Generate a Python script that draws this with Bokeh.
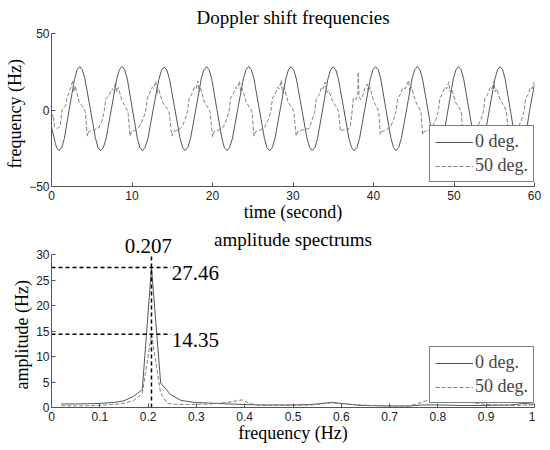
from bokeh.plotting import figure
from bokeh.models import Legend, LegendItem, Label, FixedTicker, Title
from bokeh.layouts import column
from bokeh.embed import file_html
from bokeh.resources import INLINE

# ---------------- data ----------------
time_solid = [0, 0.5, 0.62, 0.95,
              1.28, 1.6, 2.2, 2.85, 3.17, 3.5, 3.83, 4.15, 4.8, 5.45, 5.77, 6.1,
              6.43, 6.77, 7.43, 8.1, 8.43, 8.76, 9.09, 9.4, 10.03, 10.67, 10.97, 11.3,
              11.63, 11.98, 12.65, 13.33, 13.67, 14.0, 14.33, 14.65, 15.3, 15.95, 16.27, 16.6,
              16.93, 17.27, 17.93, 18.6, 18.93, 19.26, 19.59, 19.9, 20.53, 21.17, 21.47, 21.8,
              22.13, 22.48, 23.15, 23.83, 24.17, 24.5, 24.83, 25.15, 25.8, 26.45, 26.77, 27.1,
              27.43, 27.77, 28.43, 29.1, 29.43, 29.76, 30.09, 30.42, 31.08, 31.74, 32.07, 32.4,
              32.73, 33.05, 33.7, 34.34, 34.67, 34.99, 35.32, 35.64, 36.3, 36.95, 37.27, 37.6,
              37.93, 38.27, 38.93, 39.6, 39.93, 40.26, 40.59, 40.9, 41.53, 42.17, 42.49, 42.8,
              43.13, 43.46, 44.13, 44.79, 45.12, 45.45, 45.78, 46.09, 46.73, 47.36, 47.68, 48.0,
              48.33, 48.64, 49.28, 49.92, 50.24, 50.56, 50.89, 51.2, 51.83, 52.47, 52.79, 53.1,
              53.43, 53.76, 54.42, 55.08, 55.41, 55.74, 56.05, 56.35, 56.97, 57.58, 57.89, 58.2,
              58.52, 58.85, 59.4, 60.0]
shift_0deg = [-11, -22, -24.4, -26.5,
              -24.4, -18.5, 0.5, 20.0, 26.4, 28.5, 26.4, 20.5, 1.5, -18.0, -24.4, -26.5,
              -24.6, -19.0, 0.5, 20.5, 26.5, 28.6, 26.5, 21.0, 1.0, -18.5, -24.4, -26.6,
              -24.4, -18.5, 1.0, 20.0, 26.2, 28.2, 26.3, 20.5, 1.5, -18.0, -24.3, -26.4,
              -24.4, -18.5, 0.5, 20.5, 26.4, 28.5, 26.4, 20.5, 1.0, -18.5, -24.5, -26.5,
              -24.4, -18.5, 1.0, 20.5, 26.5, 28.6, 26.4, 20.5, 1.0, -18.5, -24.4, -26.5,
              -24.4, -18.5, 1.0, 20.5, 26.4, 28.5, 26.4, 20.5, 1.0, -18.5, -24.4, -26.5,
              -24.4, -18.5, 1.0, 20.5, 26.4, 28.4, 26.4, 20.5, 1.0, -18.5, -24.4, -26.6,
              -24.5, -18.5, 1.0, 20.5, 26.4, 28.5, 26.4, 20.5, 1.0, -18.5, -24.4, -26.5,
              -24.4, -18.5, 1.0, 20.5, 26.5, 28.6, 26.4, 20.5, 1.0, -18.5, -24.4, -26.5,
              -24.4, -18.5, 1.0, 20.5, 26.4, 28.5, 26.4, 20.5, 1.0, -18.5, -24.4, -26.5,
              -24.4, -18.5, 1.0, 20.5, 26.4, 28.5, 26.4, 20.5, 1.0, -18.5, -24.4, -26.5,
              -24.4, -18.5, 0.0, 17.0]

time_dashed = [0.0, 0.2, 0.4, 0.8, 1.1, 1.3, 1.75, 1.95, 2.15, 2.4, 2.65, 2.8, 2.95, 3.45, 3.85,
               4.2, 4.45, 4.65, 5.2, 5.9, 6.3, 6.55, 6.75, 7.0, 7.55, 7.75, 7.97, 8.12, 8.3,
               8.75, 9.2, 9.5, 9.75, 9.95, 10.5, 10.9, 11.35, 11.7, 11.9, 12.1, 12.5, 12.7,
               12.95, 13.1, 13.3, 13.8, 14.3, 14.6, 14.95, 15.15, 15.8, 16.2, 16.6, 16.9,
               17.1, 17.4, 17.75, 17.95, 18.18, 18.35, 18.5, 19.0, 19.4, 19.7, 20.0, 20.2,
               20.8, 21.35, 21.75, 22.05, 22.25, 22.55, 22.9, 23.1, 23.36, 23.5, 23.7, 24.2,
               24.6, 24.9, 25.15, 25.35, 25.9, 26.5, 26.95, 27.25, 27.45, 27.75, 28.1, 28.3,
               28.55, 28.7, 28.9, 29.4, 29.8, 30.1, 30.4, 30.6, 31.2, 32.0, 32.4, 32.7, 32.9,
               33.2, 33.55, 33.75, 34.0, 34.2, 34.4, 35.0, 35.4, 35.65, 35.9, 36.1, 36.8,
               37.1, 37.3, 37.5, 37.8, 38.05, 38.1, 38.2, 38.4, 38.7, 38.95, 39.2, 39.35,
               39.55, 40.0, 40.4, 40.65, 40.85, 41.05, 41.6, 42.1, 42.5, 42.8, 43.0, 43.3,
               43.7, 43.95, 44.37, 44.5, 44.7, 45.2, 45.6, 45.9, 46.1, 46.3, 46.9, 47.3,
               47.75, 48.05, 48.25, 48.5, 48.85, 49.1, 49.35, 49.5, 49.7, 50.2, 50.6, 50.9,
               51.1, 51.3, 51.9, 52.9, 53.35, 53.65, 53.85, 54.15, 54.5, 54.7, 54.96, 55.1,
               55.3, 55.8, 56.2, 56.5, 56.8, 57.0, 57.5, 58.0, 58.4, 58.7, 58.9, 59.2, 59.5,
               59.7, 60.0]
shift_50deg = [-5, -3, -11, -12, -10, 0, 3, 8.5, 11, 15, 19.5, 12, 16, 5, 2.5,
               -1, -17, -14, -13, -11.5, -6.5, -0.5, 7.5, 8.5, 14, 13, 18.5, 12, 15,
               6, 2, -1, -17, -14, -13, -11, -6, -1, 8, 10, 15, 14,
               19, 11, 14, 5, 1.5, -1, -17, -14, -13, -11, -6, -1,
               8, 10, 15, 14, 19, 12, 15, 5, 2, -1, -17.5, -14,
               -13, -11, -6, -1, 8, 10, 15, 14, 19, 12, 14, 5,
               2, -1, -17, -14, -13, -11, -6, -1, 8, 10, 15, 14,
               19.5, 11, 15, 5, 2, -1, -17, -14, -13, -12, -6, -1, 8,
               9.5, 15, 14, 18.5, 11.5, 13, 5, 2, -1, -14, -13, -13,
               -11, -3, 8, 7, 9, 25, 9, 7, 10, 15, 17, 12,
               15, 6, 2, -1, -16, -14, -13, -11, -6, -1, 8, 10,
               15, 14, 19.5, 12, 15, 6, 2, -1, -16, -14, -13, -11,
               -6, -1, 8, 10, 15, 14, 18.5, 12, 14, 5, 2, -1,
               -16, -14, -13, -11, -6, -1, 8, 10, 15, 14, 19, 12,
               14, 6, 3, -1, -16, -14, -13, -11, -6, -1, 8, 10, 15,
               14, 19]

freq_solid = [0.02, 0.05, 0.08, 0.10, 0.13, 0.15, 0.17, 0.188, 0.207, 0.226, 0.247, 0.268, 0.295,
              0.33, 0.364, 0.398, 0.43, 0.47, 0.50, 0.54, 0.58, 0.60, 0.64, 0.68, 0.71, 0.74,
              0.77, 0.80, 0.85, 0.90, 0.95, 0.98, 1.0]
amp_0deg = [0.7, 0.7, 0.75, 0.8, 1.0, 1.3, 2.2, 3.5, 27.46, 4.8, 2.5, 1.4, 1.0,
            0.85, 0.7, 0.6, 0.5, 0.5, 0.5, 0.6, 1.0, 0.8, 0.4, 0.35, 0.3, 0.3,
            0.5, 0.5, 0.4, 0.4, 0.5, 0.8, 0.6]
freq_dashed = [0.02, 0.05, 0.08, 0.10, 0.13, 0.15, 0.17, 0.188, 0.207, 0.226, 0.24, 0.26, 0.30,
               0.33, 0.364, 0.395, 0.41, 0.43, 0.47, 0.50, 0.54, 0.58, 0.62, 0.66, 0.70, 0.74,
               0.76, 0.79, 0.82, 0.85, 0.90, 0.95, 1.0]
amp_50deg = [0.35, 0.3, 0.35, 0.45, 0.6, 0.8, 1.4, 2.7, 14.35, 2.8, 0.8, 0.6, 0.6,
             0.7, 1.0, 1.5, 0.8, 0.4, 0.4, 0.4, 0.5, 0.9, 0.6, 0.4, 0.3, 0.3,
             0.8, 1.8, 2.4, 1.2, 0.6, 0.4, 0.5]

peak_freq = 0.207
peak_0deg = 27.46
peak_50deg = 14.35
guide_end = 0.247

titles = ["Doppler shift frequencies", "amplitude spectrums"]
x_labels = ["time (second)", "frequency (Hz)"]
y_labels = ["frequency (Hz)", "amplitude (Hz)"]
series_labels = ["0 deg.", "50 deg."]
time_ticks = [0, 10, 20, 30, 40, 50, 60]
shift_ticks = [-50, 0, 50]
freq_ticks = [0, 0.1, 0.2, 0.3, 0.4, 0.5, 0.6, 0.7, 0.8, 0.9, 1]
amp_ticks = [0, 5, 10, 15, 20, 25, 30]

# ---------------- style / geometry ----------------
SERIF = "Liberation Serif"
SANS = "Liberation Sans"
AXIS_COL = "#555555"
SOLID_COL = "#555555"
DASH_COL = "#808080"

FRAME_W = 483
P1_FRAME_H = 186      # frame incl. room for the title above the axis
P1_AXIS_H = 152.7     # pixel length of the drawn y axis
P2_FRAME_H = 205
P2_AXIS_H = 153


def style(p, ylabel, ylabel_shift):
    p.outline_line_color = None
    p.xgrid.visible = False
    p.ygrid.visible = False
    for ax in (p.xaxis[0], p.yaxis[0]):
        ax.axis_line_color = AXIS_COL
        ax.major_tick_line_color = AXIS_COL
        ax.major_tick_in = 4
        ax.major_tick_out = 0
        ax.minor_tick_in = 0
        ax.minor_tick_out = 0
        ax.major_label_text_font = SANS
        ax.major_label_text_font_size = "12px"
        ax.major_label_text_color = "#222222"
        ax.axis_label_text_font = SERIF
        ax.axis_label_text_font_size = "18px"
        ax.axis_label_text_font_style = "normal"
        ax.axis_label_text_color = "black"
    p.xaxis[0].major_label_standoff = 4
    p.yaxis[0].major_label_standoff = 2
    t = Title(text=ylabel, align="left", offset=ylabel_shift, standoff=4,
              text_font=SERIF, text_font_size="18px", text_font_style="normal",
              text_color="black")
    p.add_layout(t, "left")


def add_legend(p, r1, r2, y0):
    lg = Legend(items=[LegendItem(label=series_labels[0], renderers=[r1]),
                       LegendItem(label=series_labels[1], renderers=[r2])],
                location=(378, y0))
    lg.border_line_color = "black"
    lg.border_line_width = 1
    lg.background_fill_color = "white"
    lg.background_fill_alpha = 1.0
    lg.label_text_font = SERIF
    lg.label_text_font_size = "18px"
    lg.glyph_width = 38
    lg.glyph_height = 20
    lg.label_height = 20
    lg.label_standoff = 2
    lg.padding = 5
    lg.spacing = 3
    lg.margin = 0
    p.add_layout(lg)


def add_text(p, x, y, yoff, text, size="18px", xoff=0):
    p.add_layout(Label(x=x, y=y, x_offset=xoff, y_offset=yoff, text=text, text_align="center",
                       text_baseline="middle", text_font=SERIF, text_font_size=size,
                       text_color="black"))


# ---------------- top ----------------
y1_end = shift_ticks[0] + (shift_ticks[-1] - shift_ticks[0]) * P1_FRAME_H / P1_AXIS_H
p1 = figure(frame_width=FRAME_W, frame_height=P1_FRAME_H,
            x_range=(time_ticks[0], time_ticks[-1]), y_range=(shift_ticks[0], y1_end),
            output_backend="svg", toolbar_location=None, title=None,
            min_border_left=0, min_border_right=8, min_border_top=0, min_border_bottom=0)
style(p1, y_labels[0], 18)
p1.xaxis[0].ticker = FixedTicker(ticks=time_ticks)
p1.yaxis[0].ticker = FixedTicker(ticks=shift_ticks)
p1.yaxis[0].bounds = (shift_ticks[0], shift_ticks[-1])
r1 = p1.line(time_solid, shift_0deg, line_color=SOLID_COL, line_width=1)
r2 = p1.line(time_dashed, shift_50deg, line_color=DASH_COL, line_width=1, line_dash="4 2")
add_legend(p1, r1, r2, 4)
add_text(p1, (time_ticks[0] + time_ticks[-1]) / 2, y1_end, -17, titles[0], size="19px")

# ---------------- bottom ----------------
y2_end = amp_ticks[0] + (amp_ticks[-1] - amp_ticks[0]) * P2_FRAME_H / P2_AXIS_H
p2 = figure(frame_width=FRAME_W, frame_height=P2_FRAME_H,
            x_range=(freq_ticks[0], freq_ticks[-1]), y_range=(amp_ticks[0], y2_end),
            output_backend="svg", toolbar_location=None, title=None,
            min_border_left=0, min_border_right=8, min_border_top=0, min_border_bottom=0)
style(p2, y_labels[1], 18)
p2.xaxis[0].axis_label = x_labels[1]
p2.xaxis[0].axis_label_standoff = -1
p2.xaxis[0].ticker = FixedTicker(ticks=freq_ticks)
p2.xaxis[0].major_label_overrides = {0: "0", 1: "1"}
p2.yaxis[0].ticker = FixedTicker(ticks=amp_ticks)
p2.yaxis[0].bounds = (amp_ticks[0], amp_ticks[-1])
s1 = p2.line(freq_solid, amp_0deg, line_color=SOLID_COL, line_width=1)
s2 = p2.line(freq_dashed, amp_50deg, line_color=DASH_COL, line_width=1, line_dash="4 2")
add_legend(p2, s1, s2, 4)

xc2 = (freq_ticks[0] + freq_ticks[-1]) / 2
add_text(p2, xc2, y2_end, -9, x_labels[0])          # x label of the top panel
add_text(p2, xc2, y2_end, -37, titles[1], size="19px")

p2.segment(x0=[0, 0, peak_freq], y0=[peak_0deg, peak_50deg, 0],
           x1=[guide_end, guide_end, peak_freq], y1=[peak_0deg, peak_50deg, amp_ticks[-1]],
           line_color="black", line_width=1.5, line_dash="4 3")

for val in (peak_0deg, peak_50deg):
    p2.add_layout(Label(x=guide_end, y=val, text=f"{val:.2f}", x_offset=1, y_offset=-6,
                        text_baseline="middle", text_align="left",
                        text_font=SERIF, text_font_size="21px", text_color="black"))
add_text(p2, peak_freq, amp_ticks[-1], 9, f"{peak_freq:.3f}", size="21px", xoff=-3)

layout = column(p1, p2)
open("out.html", "w").write(file_html(layout, INLINE))
